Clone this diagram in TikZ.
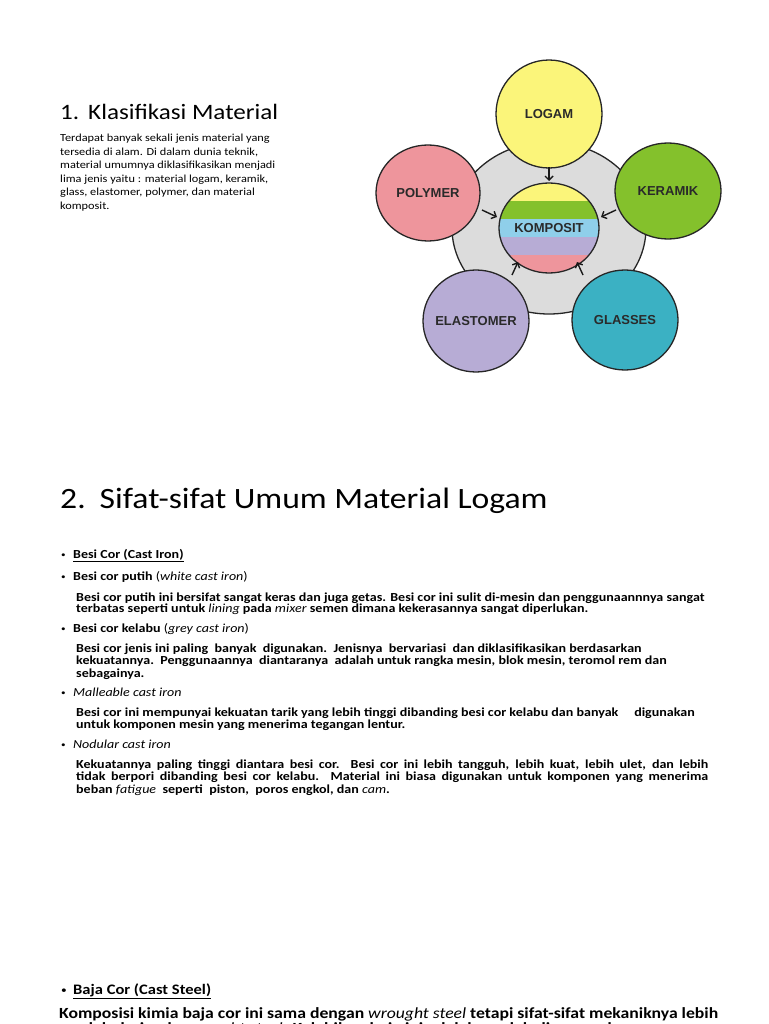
\documentclass[tikz,border=0pt]{standalone}
\usepackage{fontspec}
\setmainfont{Carlito}[FakeStretch=1.14]
\newfontfamily\arialb{Liberation Sans}
\usetikzlibrary{arrows.meta,shapes.geometric}
\definecolor{cgray}{HTML}{DCDCDC}
\definecolor{cyel}{HTML}{FBF57A}
\definecolor{cgreen}{HTML}{84C12C}
\definecolor{cpink}{HTML}{EE959C}
\definecolor{cblue}{HTML}{8FCFEA}
\definecolor{clav}{HTML}{B7ACD5}
\definecolor{cteal}{HTML}{3BB1C3}
\definecolor{ctxt}{HTML}{2A2A2A}
\begin{document}
\begin{tikzpicture}[x=1pt,y=-1pt,
  mat/.style={draw=black!85,line width=1.3pt,ellipse},
  lab/.style={font=\arialb\bfseries\fontsize{13}{15}\selectfont,text=ctxt},
  para/.style={anchor=base west,inner sep=0pt,font=\fontsize{10.8}{12}\selectfont},
  body/.style={anchor=base west,inner sep=0pt,font=\bfseries\fontsize{12.3}{14}\selectfont},
  bul/.style={anchor=base west,inner sep=0pt,font=\fontsize{12.3}{14}\selectfont},
  dot/.style={anchor=base west,inner sep=0pt,font=\fontsize{8}{10}\selectfont},
  arr/.style={-{Straight Barb[length=4pt,width=8pt]},line width=1.4pt,black!90}]
\useasboundingbox (0,0) rectangle (768,1024);
\fill[white] (0,0) rectangle (768,1024);
% diagram
\filldraw[fill=cgray,draw=black!85,line width=1.3pt] (549,228) ellipse [x radius=97,y radius=86];
\begin{scope}
\clip (549,228) ellipse [x radius=50,y radius=45];
\fill[cyel] (495,180) rectangle (605,201);
\fill[cgreen] (495,201) rectangle (605,219);
\fill[cblue] (495,219) rectangle (605,237);
\fill[clav] (495,237) rectangle (605,255);
\fill[cpink] (495,255) rectangle (605,276);
\end{scope}
\draw[black!85,line width=1.3pt] (549,228) ellipse [x radius=50,y radius=45];
\node[lab] (kom) at (549,228) {KOMPOSIT};
\node[mat,fill=cyel,minimum width=106pt,minimum height=108pt] (log) at (549,114) {};
\node[lab] at (log) {LOGAM};
\node[mat,fill=cpink,minimum width=104pt,minimum height=96pt] (pol) at (428,193) {};
\node[lab] at (pol) {POLYMER};
\node[mat,fill=cgreen,minimum width=106pt,minimum height=96pt] (ker) at (668,191) {};
\node[lab] at (ker) {KERAMIK};
\node[mat,fill=clav,minimum width=106pt,minimum height=102pt] (ela) at (476,321) {};
\node[lab] at (ela) {ELASTOMER};
\node[mat,fill=cteal,minimum width=106pt,minimum height=100pt] (gla) at (625,320) {};
\node[lab] at (gla) {GLASSES};
\coordinate (a1) at (549,167); \coordinate (b1) at (549,181);
\coordinate (a2) at (482,210); \coordinate (b2) at (497,217);
\coordinate (a3) at (616,210); \coordinate (b3) at (601,217);
\coordinate (a4) at (512,275); \coordinate (b4) at (518,262);
\coordinate (a5) at (583,275); \coordinate (b5) at (577,262);
\foreach \i in {1,...,5} \draw[arr] (a\i) -- (b\i);
% section 1
\node[anchor=base west,inner sep=0pt,font=\fontsize{22}{26}\selectfont] (t1) at (60,120) {1.\hspace{9pt}Klasifikasi Material};
\node[para] (p1) at (60,142) {Terdapat banyak sekali jenis material yang};
\node[para] (p2) at (60,155.5) {tersedia di alam. Di dalam dunia teknik,};
\node[para] (p3) at (60,169) {material umumnya diklasifikasikan menjadi};
\node[para] (p4) at (60,182.5) {lima jenis yaitu : material logam, keramik,};
\node[para] (p5) at (60,196) {glass, elastomer, polymer, dan material};
\node[para] (p6) at (60,209.5) {komposit.};
% section 2
\node[anchor=base west,inner sep=0pt,font=\fontsize{29.5}{34}\selectfont] (t2) at (60,508) {2.\hspace{14pt}Sifat-sifat Umum Material Logam};
\foreach \y/\n in {558/u1,580/u2,632/u3,696/u4,748/u5}
  \node[dot] (\n) at (61,\y-1) {•};
\node[body] (h1) at (73,558) {\underline{Besi Cor (Cast Iron)}};
\node[body] (h2) at (73,580) {Besi cor putih \textmd{(\textit{white cast iron})}};
\node[body] (l1) at (76,601) {Besi cor putih ini bersifat sangat keras dan juga getas. Besi cor ini sulit di-mesin dan penggunaannnya sangat};
\node[body] (l2) at (76,612) {terbatas seperti untuk \textmd{\textit{lining}} pada \textmd{\textit{mixer}} semen dimana kekerasannya sangat diperlukan.};
\node[body] (h3) at (73,632) {Besi cor kelabu \textmd{(\textit{grey cast iron})}};
\node[body] (l3) at (76,652) {Besi cor jenis ini paling\ \ banyak\ \ digunakan.\ \ Jenisnya\ \ bervariasi\ \ dan diklasifikasikan berdasarkan};
\node[body] (l4) at (76,664.5) {kekuatannya.\ \ Penggunaannya\ \ diantaranya\ \ adalah untuk rangka mesin, blok mesin, teromol rem dan};
\node[body] (l5) at (76,677) {sebagainya.};
\node[bul] (h4) at (73,696) {\textit{Malleable cast iron}};
\node[body] (l6) at (76,716) {Besi cor ini mempunyai kekuatan tarik yang lebih tinggi dibanding besi cor kelabu dan banyak\ \ \ \ \ digunakan};
\node[body] (l7) at (76,728) {untuk komponen mesin yang menerima tegangan lentur.};
\node[bul] (h5) at (73,748) {\textit{Nodular cast iron}};
\node[body] (l8) at (76,768) {\makebox[632pt][s]{Kekuatannya paling tinggi diantara besi cor. Besi cor ini lebih tangguh, lebih kuat, lebih ulet, dan lebih}};
\node[body] (l9) at (76,780.5) {\makebox[632pt][s]{tidak berpori dibanding besi cor kelabu. Material ini biasa digunakan untuk komponen yang menerima}};
\node[body] (l10) at (76,793) {beban \textmd{\textit{fatigue}}\ \ seperti\ \ piston,\ \ poros engkol, dan \textmd{\textit{cam}}.};
% section baja cor
\node[dot,font=\fontsize{10}{12}\selectfont] (bb) at (61,993) {•};
\node[anchor=base west,inner sep=0pt,font=\bfseries\fontsize{14.5}{17}\selectfont] (h6) at (73,994) {\underline{Baja Cor (Cast Steel)}};
\begin{scope}
\clip (0,0) rectangle (768,1024);
\node[anchor=base west,inner sep=0pt,font=\bfseries\fontsize{15.5}{19}\selectfont] (k1) at (59,1018) {Komposisi kimia baja cor ini sama dengan \textmd{\textit{wrought steel}} tetapi sifat-sifat mekaniknya lebih};
\node[anchor=base west,inner sep=0pt,font=\bfseries\fontsize{15.5}{19}\selectfont] (k2) at (59,1033) {rendah daripada \textmd{\textit{wrought steel}}. Kelebihan baja ini adalah mudah diproses dengan cara};
\end{scope}
\end{tikzpicture}
\end{document}
